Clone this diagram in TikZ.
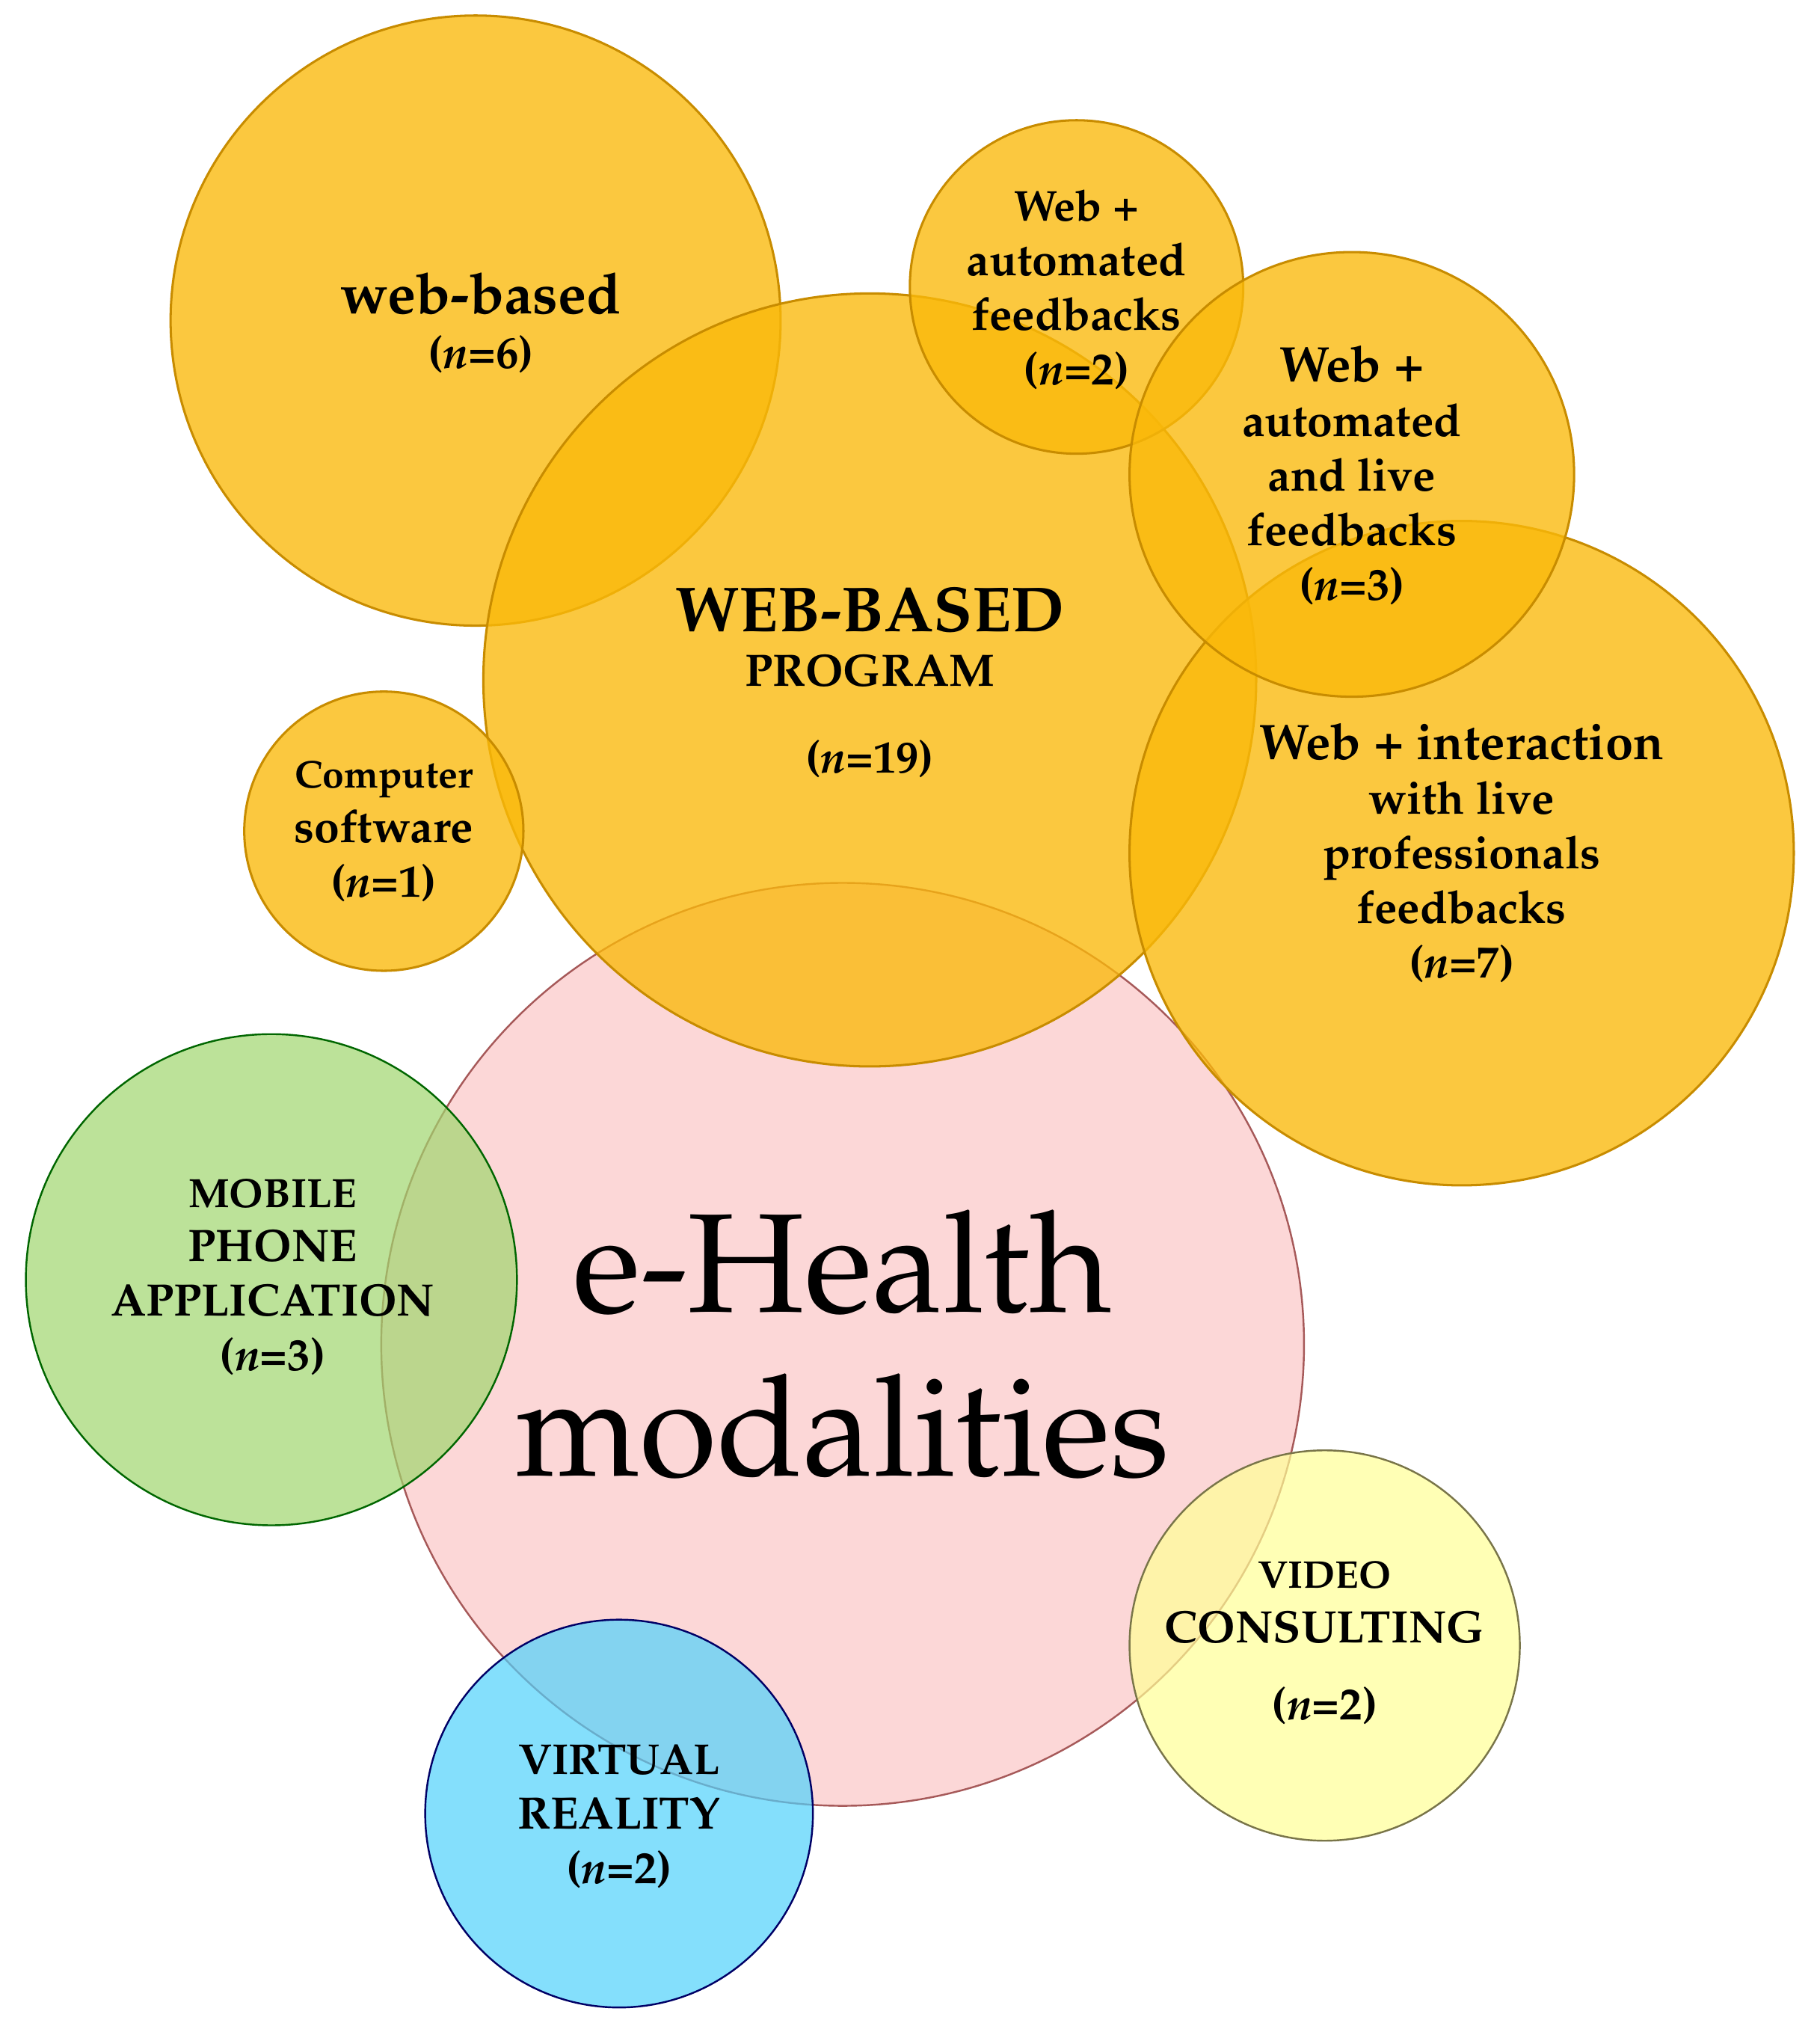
\documentclass[tikz,border=0pt]{standalone}
\usepackage[T1]{fontenc}
\usepackage{mathpazo}
\definecolor{org}{RGB}{250,185,10}
\definecolor{orgline}{RGB}{200,140,0}
\definecolor{pinkc}{RGB}{252,208,208}
\definecolor{greenc}{RGB}{160,214,110}
\definecolor{bluec}{RGB}{80,210,252}
\definecolor{yelc}{RGB}{255,255,150}
\tikzset{
  bub/.style={draw=orgline, line width=0.5pt, fill=org, fill opacity=0.78, draw opacity=1},
  lab/.style={align=center, text opacity=1, font=\bfseries},
}
\newcommand{\fs}[2]{\fontsize{#1}{#2}\selectfont}
\begin{document}
\begin{tikzpicture}[x=0.01cm,y=-0.01cm]
\useasboundingbox (0,0) rectangle (1408,1572);
\fill[white] (0,0) rectangle (1408,1572);
% e-Health
\draw[draw=red!30!gray, line width=0.4pt, fill=pinkc, fill opacity=0.85] (652,1040) circle (357);
\draw[draw=green!40!black, line width=0.4pt, fill=greenc, fill opacity=0.7] (210,990) circle (190);
\draw[draw=blue!40!black, line width=0.4pt, fill=bluec, fill opacity=0.7] (479,1403) circle (150);
\draw[draw=yellow!40!black, line width=0.4pt, fill=yelc, fill opacity=0.7] (1025,1273) circle (151);
% orange bubbles
\draw[bub] (368,248) circle (236);
\draw[bub] (673,526) circle (299);
\draw[bub] (297,643) circle (108);
\draw[bub] (1131,660) circle (257);
\draw[bub] (833,222) circle (129);
\draw[bub] (1046,367) circle (172);
% labels
\node[lab] (wb) at (372,250) {\fs{12.5}{16.5}web-based\\(\textit{n}=6)};
\node[lab] (wbp) at (673,528) {\fs{14}{17}WEB-BASED\\PROGRAM\\[7pt](\textit{n}=19)};
\node[lab] (waf) at (833,224) {\fs{9.5}{12}Web +\\automated\\feedbacks\\(\textit{n}=2)};
\node[lab] (wal) at (1046,368) {\fs{11}{14.3}Web +\\automated\\and live\\feedbacks\\(\textit{n}=3)};
\node[lab] (wil) at (1131,660) {\fs{11}{14.3}Web + interaction\\with live\\professionals\\feedbacks\\(\textit{n}=7)};
\node[lab] (cs) at (297,643) {\fs{8.5}{10.2}Computer\\software\\(\textit{n}=1)};
\node[align=center, font=\fs{31}{36}] (eh) at (652,1040) {e-Health\\modalities};
\node[lab] (mob) at (211,988) {\fs{9}{11.4}MOBILE\\PHONE\\APPLICATION\\(\textit{n}=3)};
\node[lab] (vr) at (479,1405) {\fs{9.5}{11.5}VIRTUAL\\REALITY\\(\textit{n}=2)};
\node[lab] (vc) at (1025,1271) {\fs{8.5}{10}VIDEO\\CONSULTING\\[5pt](\textit{n}=2)};
\end{tikzpicture}
\end{document}
